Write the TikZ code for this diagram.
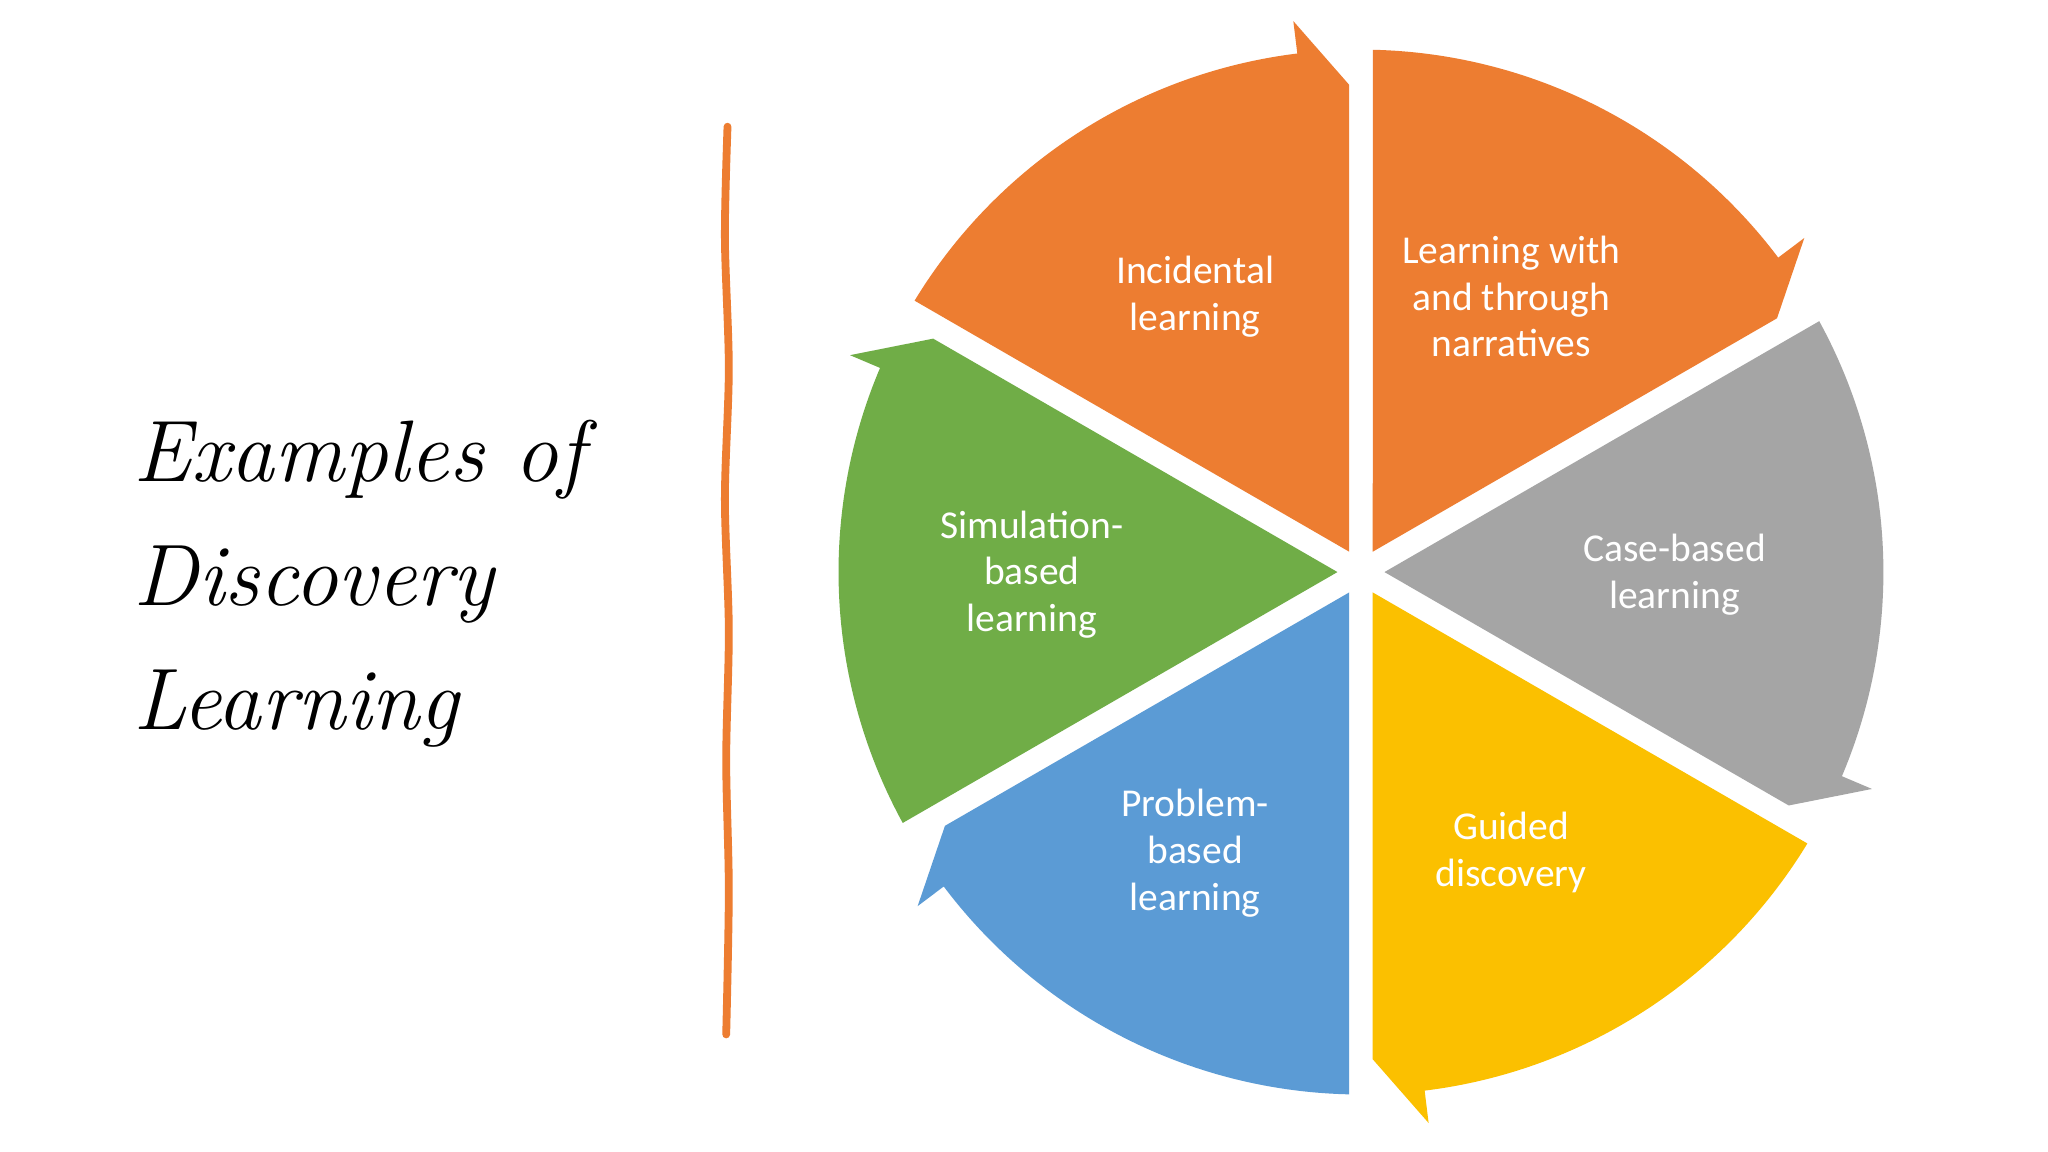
\documentclass[tikz,border=0pt]{standalone}
\usepackage{fontspec}
\newfontfamily\lab{Carlito}
\definecolor{corange}{HTML}{ED7D31}
\definecolor{cgray}{HTML}{A5A5A5}
\definecolor{cyellow}{HTML}{FBC000}
\definecolor{cblue}{HTML}{5B9BD5}
\definecolor{cgreen}{HTML}{70AD47}
\begin{document}
\begin{tikzpicture}[x=0.01cm,y=0.01cm,
  lbl/.style={text=white,font=\lab\fontsize{8.6}{10.2}\selectfont,align=center},
  ttl/.style={font=\itshape\fontsize{19}{27}\selectfont,align=left,anchor=west}]
\useasboundingbox (0,0) rectangle (1568,882);
\fill[white] (0,0) rectangle (1568,882);
\newcommand\sector[2]{%
  \fill[#1,shift={(1042,444)},rotate=#2]
    (30:18) -- (58.7:400) arc[start angle=58.7,end angle=7,radius=400]
    -- (7:425) -- (373,9) -- cycle;}
\sector{corange}{90}
\sector{corange}{30}
\sector{cgray}{-30}
\sector{cyellow}{-90}
\sector{cblue}{-150}
\sector{cgreen}{150}
\node[lbl] (a) at (915,655) {Incidental\\learning};
\node[lbl] (b) at (1157,655) {Learning with\\and through\\narratives};
\node[lbl] (c) at (1282,442) {Case-based\\learning};
\node[lbl] (d) at (1157,229) {Guided\\discovery};
\node[lbl] (e) at (915,229) {Problem-\\based\\learning};
\node[lbl] (f) at (790,442) {Simulation-\\based\\learning};
\draw[corange,line width=1.7pt,line cap=round] plot[smooth] coordinates
  {(557,785) (555,700) (558,600) (555,500) (558,400) (556,300) (558,200) (556,90)};
\node[ttl] (t) at (90,435) {Examples of\\Discovery\\Learning};
\end{tikzpicture}
\end{document}
